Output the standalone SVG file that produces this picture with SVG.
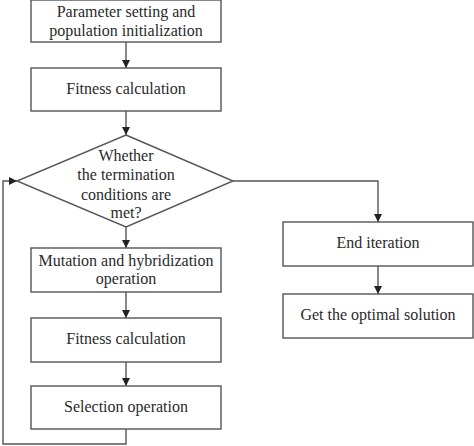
<svg xmlns="http://www.w3.org/2000/svg" width="474" height="446" viewBox="0 0 474 446">
<style>
.box{fill:#fff;stroke:#555;stroke-width:1.4}
.ln{fill:none;stroke:#555;stroke-width:1.4}
text{font-family:"Liberation Serif","Times New Roman",serif;font-size:16px;fill:#2a2a2a;text-anchor:middle}
</style>
<defs>
<marker id="ah" viewBox="0 0 10 10" refX="10" refY="5" markerWidth="8" markerHeight="8" markerUnits="userSpaceOnUse" orient="auto">
<path d="M0,0 L10,5 L0,10 Z" fill="#222"/>
</marker>
</defs>
<rect width="474" height="446" fill="#fff"/>
<g id="connectors">
<line class="ln" x1="126" y1="42" x2="126" y2="68" marker-end="url(#ah)"/>
<line class="ln" x1="126" y1="111" x2="126" y2="135" marker-end="url(#ah)"/>
<line class="ln" x1="126" y1="227" x2="126" y2="248" marker-end="url(#ah)"/>
<line class="ln" x1="126" y1="292" x2="126" y2="318" marker-end="url(#ah)"/>
<line class="ln" x1="126" y1="362" x2="126" y2="386" marker-end="url(#ah)"/>
<polyline class="ln" points="233,181 378,181 378,222" marker-end="url(#ah)"/>
<line class="ln" x1="378" y1="266" x2="378" y2="294" marker-end="url(#ah)"/>
<polyline class="ln" points="126,429 126,444 3,444 3,181 17,181" marker-end="url(#ah)"/>
</g>
<g id="n1"><rect class="box" x="31" y="0" width="190" height="42"/>
<text x="126" y="17">Parameter setting and</text><text x="126" y="36">population initialization</text></g>
<g id="n2"><rect class="box" x="31" y="68" width="190" height="43"/>
<text x="126" y="94">Fitness calculation</text></g>
<g id="n3"><polygon class="box" points="126,135 233,181 126,227 17,181"/>
<text x="126" y="161">Whether</text><text x="126" y="180">the termination</text><text x="126" y="200">conditions are</text><text x="126" y="218">met?</text></g>
<g id="n4"><rect class="box" x="31" y="248" width="190" height="44"/>
<text x="126" y="266">Mutation and hybridization</text><text x="126" y="284">operation</text></g>
<g id="n5"><rect class="box" x="31" y="318" width="190" height="44"/>
<text x="126" y="344">Fitness calculation</text></g>
<g id="n6"><rect class="box" x="31" y="386" width="190" height="43"/>
<text x="126" y="412">Selection operation</text></g>
<g id="n7"><rect class="box" x="283" y="222" width="190" height="44"/>
<text x="378" y="248">End iteration</text></g>
<g id="n8"><rect class="box" x="283" y="294" width="190" height="44"/>
<text x="378" y="320">Get the optimal solution</text></g>
</svg>
